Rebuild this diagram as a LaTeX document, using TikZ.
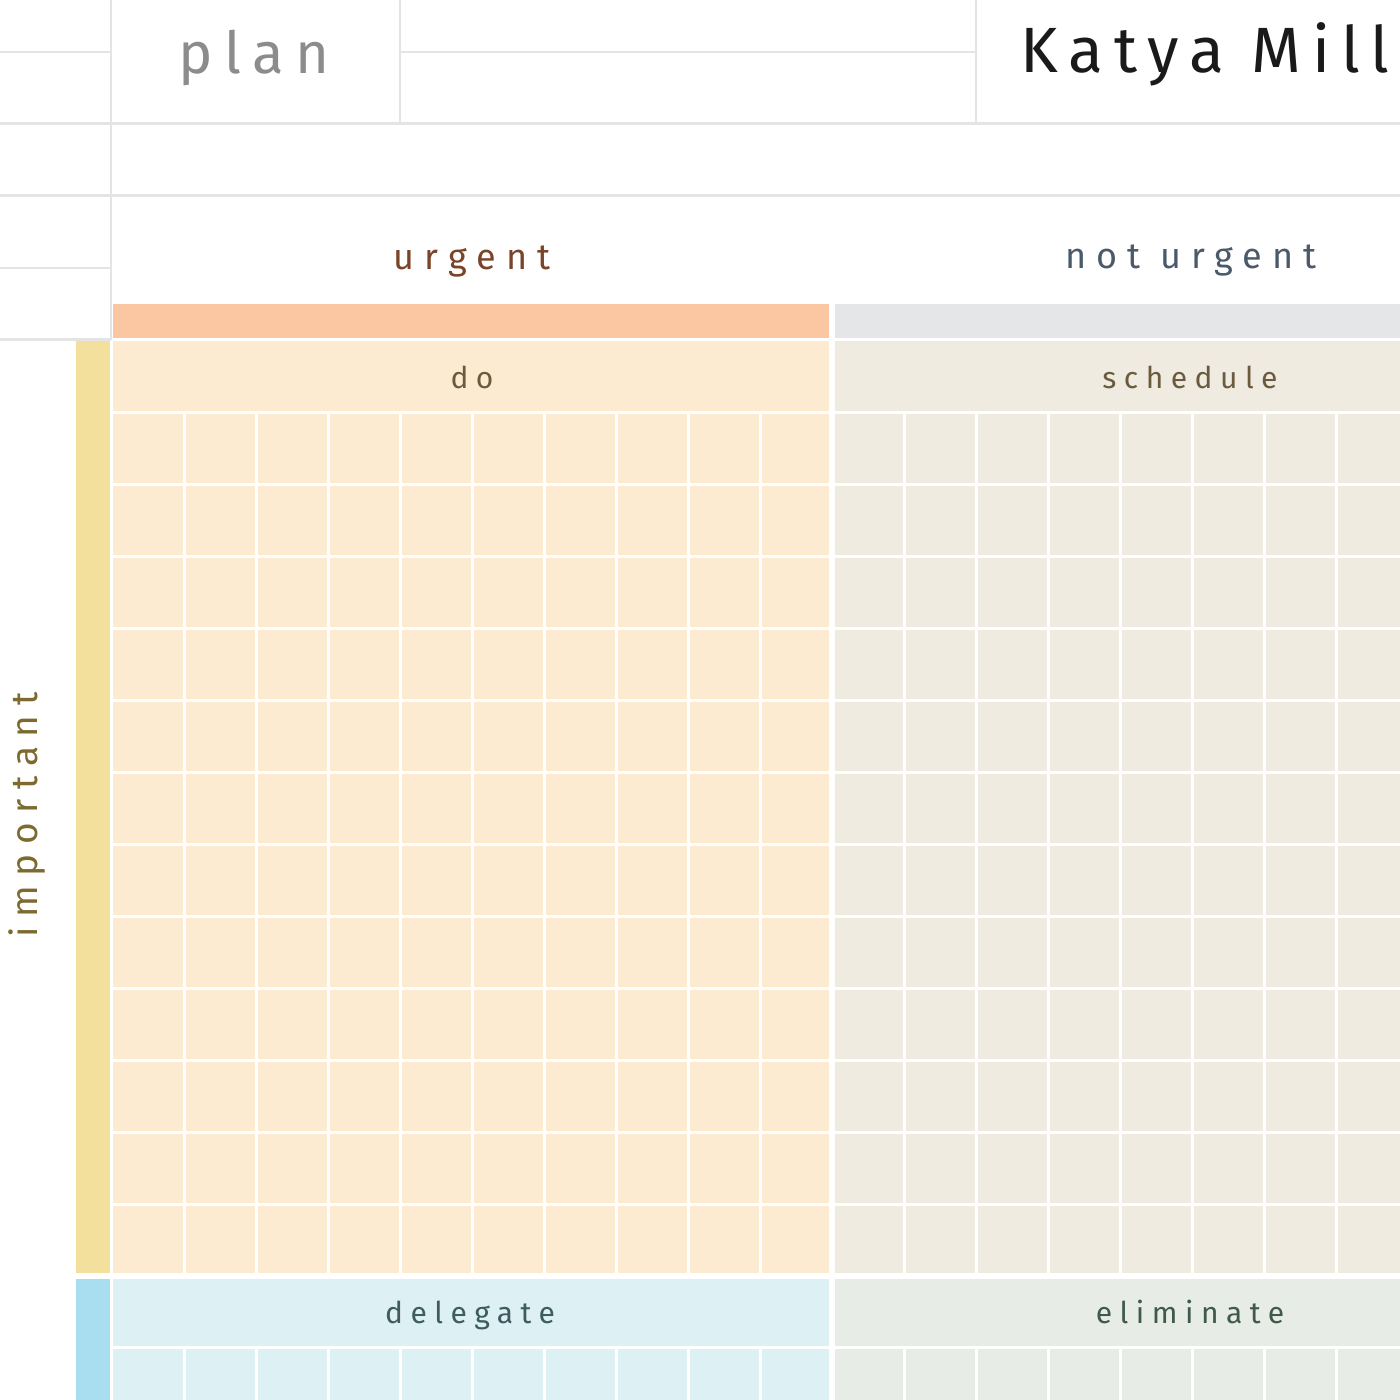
\documentclass[tikz,border=0pt]{standalone}
\usepackage{fontspec}
\setmainfont{Fira Sans}
\definecolor{lineg}{HTML}{E4E4E4}
\definecolor{plancol}{HTML}{8C8C8C}
\definecolor{namecol}{HTML}{1A1A1A}
\definecolor{urgcol}{HTML}{7A4428}
\definecolor{nurgcol}{HTML}{4B5A6A}
\definecolor{docol}{HTML}{6B5B3E}
\definecolor{delcol}{HTML}{3E5C60}
\definecolor{elimcol}{HTML}{3F5A4B}
\definecolor{impcol}{HTML}{7D6A2E}
\definecolor{orangebar}{HTML}{FBC6A2}
\definecolor{greybar}{HTML}{E5E6E8}
\definecolor{yellowbar}{HTML}{F3E09C}
\definecolor{bluebar}{HTML}{A9DDF0}
\definecolor{dofill}{HTML}{FDEBD1}
\definecolor{schfill}{HTML}{F0EBE0}
\definecolor{delfill}{HTML}{DDF0F4}
\definecolor{elimfill}{HTML}{E7ECE6}
\tikzset{
  rule/.style={draw=lineg, line width=2.2pt},
  cellline/.style={draw=white, line width=3pt},
  lbl/.style={inner sep=0pt, anchor=base},
}
\newcommand{\spaced}[3]{{\fontsize{#1}{#1}\selectfont\addfontfeatures{LetterSpace=#2}#3}}
\begin{document}
\begin{tikzpicture}[x=1pt, y=-1pt]
\useasboundingbox (0,0) rectangle (1400,1400);
\fill[white] (0,0) rectangle (1400,1400);
% header rules
\draw[rule] (0,51.7) -- (111,51.7);
\draw[rule] (400,51.7) -- (976,51.7);
\draw[rule] (111,0) -- (111,340);
\draw[rule] (400,0) -- (400,123.5);
\draw[rule] (976,0) -- (976,123.5);
\draw[rule] (0,123.5) -- (1400,123.5);
\draw[rule] (0,195.5) -- (1400,195.5);
\draw[rule] (0,268) -- (111,268);
\draw[rule] (0,339.5) -- (111,339.5);
% bars
\fill[orangebar] (113,303.5) rectangle (828.5,337.8);
\fill[greybar] (834.5,303.5) rectangle (1400,337.8);
\fill[yellowbar] (76,341) rectangle (110,1272.5);
\fill[bluebar] (76,1279) rectangle (110,1400);
% quadrants
\fill[dofill] (113,341) rectangle (828.5,1272.5);
\fill[schfill] (834.5,341) rectangle (1400,1272.5);
\fill[delfill] (113,1279) rectangle (828.5,1400);
\fill[elimfill] (834.5,1279) rectangle (1400,1400);
% cell grid
\foreach \x in {184,256,328,400,472,544,616,688,760,904,976,1048,1120,1192,1264,1336} {
  \draw[cellline] (\x,411) -- (\x,1272.5);
  \draw[cellline] (\x,1347) -- (\x,1400);
}
\foreach \k in {0,...,11} {
  \draw[cellline] (113,412+72*\k) -- (1400,412+72*\k);
}
\draw[cellline] (113,1347) -- (1400,1347);
% texts
\node[lbl, text=plancol] (plan) at (254,73) {\spaced{58}{20}{plan}};
\node[lbl, text=namecol, anchor=base west] (name) at (1020,72) {\spaced{64}{17}{Katya Mill}};
\node[lbl, text=urgcol] (urgent) at (472,269) {\spaced{36}{28}{urgent}};
\node[lbl, text=nurgcol] (noturgent) at (1191,268.5) {\spaced{36}{28}{not urgent}};
\node[lbl, text=docol] (do) at (472,388) {\spaced{30}{25}{do}};
\node[lbl, text=docol] (schedule) at (1190,388) {\spaced{30}{25}{schedule}};
\node[lbl, text=delcol] (delegate) at (470,1323) {\spaced{30}{25}{delegate}};
\node[lbl, text=elimcol] (eliminate) at (1190,1323) {\spaced{30}{25}{eliminate}};
\node[lbl, text=impcol, rotate=90] (important) at (37,815) {\spaced{37}{26}{important}};
\end{tikzpicture}
\end{document}
